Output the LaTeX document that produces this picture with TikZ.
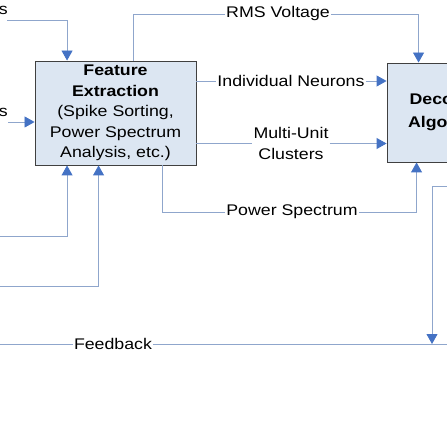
\documentclass[tikz,border=0pt]{standalone}
\usepackage{fontspec}
\setmainfont{Liberation Sans}[FakeStretch=1.15]
\usetikzlibrary{arrows.meta,calc}
\definecolor{ln}{HTML}{8FA6CC}
\definecolor{ar}{HTML}{4472C4}
\definecolor{bx}{HTML}{DCE6F2}
\begin{document}
\begin{tikzpicture}[x=1bp,y=-1bp,
 conn/.style={draw=ln,line width=0.9bp},
 arr/.style={conn,-{Triangle[length=10bp,width=11bp,fill=ar,color=ar]}},
 box/.style={draw=black!75,fill=bx,line width=0.9bp,align=center,font=\fontsize{15.5}{20.5}\selectfont,inner sep=0pt},
 lbl/.style={fill=white,inner sep=1bp,font=\fontsize{15.5}{21}\selectfont,align=center}]
\useasboundingbox (0,0) rectangle (447,447);
\clip (0,0) rectangle (447,447);
\node[box,minimum width=126bp,minimum height=99bp,font=\fontsize{15.5}{23}\selectfont] (dec) at (450,112.5) {\textbf{Decoding}\\\textbf{Algorithm}};
\node[box,minimum width=161bp,minimum height=104bp] (fe) at (115.5,113) {\textbf{Feature}\\\textbf{Extraction}\\(Spike Sorting,\\Power Spectrum\\Analysis, etc.)};
% left texts
\node[lbl,anchor=east,inner sep=0pt] (t1) at (8,10) {s};
\node[lbl,anchor=east,inner sep=0pt] (t2) at (8,112) {s};
% labels
\node[lbl] (rms) at (278,14) {RMS Voltage};
\node[lbl] (ind) at (291,81) {Individual Neurons};
\node[lbl] (mu) at (291,143.5) {Multi-Unit\\Clusters};
\node[lbl] (ps) at (292,212) {Power Spectrum};
% free ends
\coordinate (s1) at (7,20);
\coordinate (s2) at (8,122);
\coordinate (b1) at (0,236);
\coordinate (b2) at (0,286);
\coordinate (r1) at (447,186);
\coordinate (rt) at (432,344);
\coordinate (fbs) at (0,344);
\coordinate (fbe) at (447,344);
% connectors
\draw[arr] (s1) -| ([xshift=32.5bp]fe.north west);
\draw[arr] (s2) -- (s2 -| fe.west);
\draw[arr] (b1) -| ([xshift=32.5bp]fe.south west);
\draw[arr] (b2) -| ([xshift=64bp]fe.south west);
\draw[conn] ([xshift=99bp]fe.north west) |- (rms);
\draw[arr] (rms) -| ([xshift=32bp]dec.north west);
\draw[conn] (fe.east |- ind) -- (ind);
\draw[arr] (ind) -- (ind -| dec.west);
\draw[conn] (fe.east |- mu) -- (mu);
\draw[arr] (mu) -- (mu -| dec.west);
\draw[conn] ([xshift=128bp]fe.south west) |- (ps);
\draw[arr] (ps) -| ([xshift=30bp]dec.south west);
\node[lbl] (fb) at (113,344) {Feedback};
\draw[conn] (fbs) -- (fb) -- (fbe);
\draw[arr] (r1) -| (rt);
\end{tikzpicture}
\end{document}
